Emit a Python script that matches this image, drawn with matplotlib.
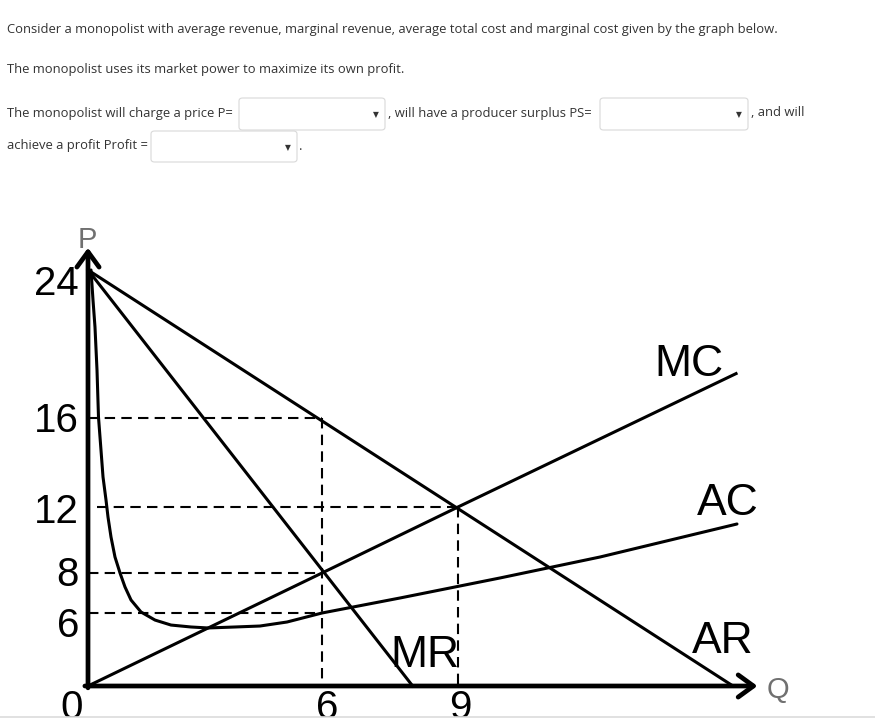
import numpy as np
import matplotlib
matplotlib.use('Agg')
import matplotlib.pyplot as plt
from matplotlib.patches import FancyBboxPatch, Rectangle
from matplotlib.lines import Line2D

W, H = 875, 726

# --- data (economic units: Q, P) ---
q_ar = [0, 18]
p_ar = [24, 0]
q_mr = [0, 8]
p_mr = [24, 0]
q_mc = [0, 6, 9, 18.1]
p_mc = [0, 8, 12, 18.4]
q_ac = [0.077, 0.128, 0.179, 0.231, 0.269, 0.333, 0.385, 0.462, 0.513, 0.590,
        0.692, 0.821, 0.949, 1.103, 1.359, 1.718, 2.128, 2.641, 3.077, 3.769,
        4.410, 5.103, 6.0, 7.72, 10.37, 13.65, 18.13]
p_ac = [24, 22.38, 20.92, 18.59, 16.05, 14.56, 13.35, 12.31, 11.39, 10.18,
        8.97, 8.0, 7.3, 6.65, 6.05, 5.42, 5.01, 4.85, 4.77, 4.85,
        4.93, 5.26, 6.0, 6.75, 7.75, 8.97, 10.97]

p_levels = [16, 12, 8, 6]       # dashed price levels
q_levels_end = [6, 9, 6, 6]     # where each dashed level stops
q_drops = [6, 9]                # dashed verticals
p_drops = [16, 12]

y_ticks = [24, 16, 12, 8, 6]
x_ticks = [0, 6, 9]

# --- hand drawn scale: piecewise linear mapping value -> pixel ---
x_anchor = np.array([-10, 0, 6, 9, 18, 40])
x_px = np.array([88 - 390, 88, 322, 458, 733, 733 + 22 * 30.56])
y_anchor = np.array([-10, 0, 6, 8, 12, 16, 24, 40])
y_px = H - np.array([686 + 121.7, 686, 613, 573, 507, 418, 270, 270 - 296])

def fx(v): return np.interp(v, x_anchor, x_px)
def fx_inv(p): return np.interp(p, x_px, x_anchor)
def fy(v): return np.interp(v, y_anchor, y_px)
def fy_inv(p): return np.interp(p, y_px, y_anchor)

fig = plt.figure(figsize=(W / 100, H / 100), dpi=100)
ax = fig.add_axes([0, 0, 1, 1])
ax.set_xscale('function', functions=(fx, fx_inv))
ax.set_yscale('function', functions=(fy, fy_inv))
ax.set_xlim(fx_inv(0), fx_inv(W))
ax.set_ylim(fy_inv(0), fy_inv(H))
ax.axis('off')

lw = 2.2
ax.plot(q_ar, p_ar, color='k', lw=lw)
ax.plot(q_mr, p_mr, color='k', lw=lw)
ax.plot(q_mc, p_mc, color='k', lw=lw)
ax.plot(q_ac, p_ac, color='k', lw=lw, solid_joinstyle='round', solid_capstyle='round')

for p, q in zip(p_levels, q_levels_end):
    q0 = 0.23 if p == 12 else 0
    ax.plot([q0, q], [p, p], color='k', lw=1.5, dashes=(5, 3))
for q, p in zip(q_drops, p_drops):
    ax.plot([q, q], [p, 0], color='k', lw=1.5, dashes=(5, 3))

# axes with arrow heads
arrow = dict(arrowstyle='->,head_length=0.55,head_width=0.4', lw=3.4, color='k',
             shrinkA=0, shrinkB=0, mutation_scale=20)
ax.annotate('', xy=(0, 25.2), xytext=(0, -0.15), arrowprops=arrow)
ax.annotate('', xy=(18.8, 0), xytext=(-0.08, 0), arrowprops=arrow)

chart_font = 'Liberation Sans'
y_offsets = [-25, -14, -16, -13, -24]
for v, dy in zip(y_ticks, y_offsets):
    ax.annotate(str(v), xy=(0, v), xytext=(-9, dy), textcoords='offset pixels',
                ha='right', va='baseline', fontsize=29, family=chart_font)
x_offsets = [-16, 5, 2]
for v, dx in zip(x_ticks, x_offsets):
    ax.annotate(str(v), xy=(v, 0), xytext=(dx, -33), textcoords='offset pixels',
                ha='center', va='baseline', fontsize=29, family=chart_font)

def ftext(x, y, s, **kw):
    fig.text(x / W, 1 - y / H, s, **kw)

for s, x, y in [('MC', 689, 376), ('AC', 728, 515), ('AR', 723, 653), ('MR', 425, 667)]:
    ftext(x, y, s, ha='center', va='baseline', fontsize=32, family=chart_font)
ftext(87, 248, 'P', ha='center', va='baseline', fontsize=21, color='#707070', family=chart_font)
ftext(778, 698, 'Q', ha='center', va='baseline', fontsize=21, color='#707070', family=chart_font)

# --- question text ---
tfont = ['Open Sans', 'DejaVu Sans']
tcol = '#333333'
ts = 9.35
ftext(7, 29, 'Consider a monopolist with average revenue, marginal revenue, average total cost '
      'and marginal cost given by the graph below.', va='center', fontsize=ts, color=tcol, family=tfont)
ftext(7, 69, 'The monopolist uses its market power to maximize its own profit.',
      va='center', fontsize=ts, color=tcol, family=tfont)
ftext(7, 113, 'The monopolist will charge a price P=', va='center', fontsize=ts, color=tcol, family=tfont)
ftext(388, 113, ', will have a producer surplus PS=', va='center', fontsize=ts, color=tcol, family=tfont)
ftext(751, 113, ', and will', va='center', fontsize=ts, color=tcol, family=tfont)
ftext(7, 145, 'achieve a profit Profit =', va='center', fontsize=ts, color=tcol, family=tfont)
ftext(299, 146, '.', va='center', fontsize=ts, color=tcol, family=tfont)

for x0, y0, x1, y1 in [(239, 98, 385, 130), (600, 98, 748, 130), (151, 131, 297, 162)]:
    box = FancyBboxPatch((x0 / W, 1 - y1 / H), (x1 - x0) / W, (y1 - y0) / H,
                         boxstyle='round,pad=0,rounding_size=0.004', transform=fig.transFigure,
                         facecolor='white', edgecolor='#d9d9d9', lw=0.8)
    fig.add_artist(box)
    ftext(x1 - 9, (y0 + y1) / 2 + 1, '\u25bc', ha='center', va='center', fontsize=5.5,
          color='#333333', family='DejaVu Sans')

# page cut at the bottom
fig.add_artist(Rectangle((0, 0), 1, 1 - 717 / H, transform=fig.transFigure,
                         facecolor='white', edgecolor='none', zorder=10))
fig.add_artist(Line2D([0, 1], [1 - 717 / H] * 2, transform=fig.transFigure,
                      color='#dcdcdc', lw=1.2, zorder=11))

fig.savefig('out.png', dpi=100)
